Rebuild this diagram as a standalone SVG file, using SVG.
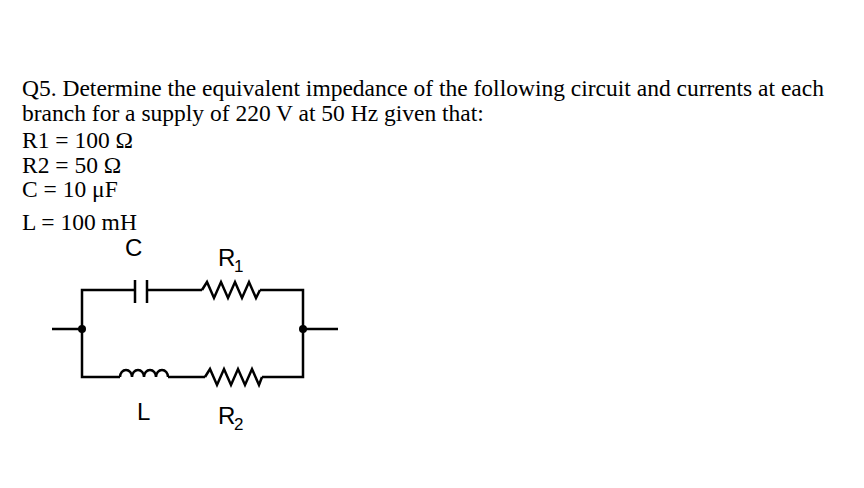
<svg xmlns="http://www.w3.org/2000/svg" width="864" height="488" viewBox="0 0 864 488">
<style>
.t{font-family:"Liberation Serif",serif;font-size:23.5px;fill:#000}
.l{font-family:"Liberation Sans",sans-serif;font-size:24px;fill:#000}
.s{font-family:"Liberation Sans",sans-serif;font-size:17px;fill:#000}
.w{fill:none;stroke:#000;stroke-width:2.5;stroke-linejoin:miter}
</style>
<rect width="864" height="488" fill="#fff"/>
<g id="question">
<text class="t" x="22" y="96">Q5. Determine the equivalent impedance of the following circuit and currents at each</text>
<text class="t" x="22" y="121">branch for a supply of 220 V at 50 Hz given that:</text>
<text class="t" x="22" y="148">R1 = 100 Ω</text>
<text class="t" x="22" y="173">R2 = 50 Ω</text>
<text class="t" x="22" y="197">C = 10 μF</text>
<text class="t" x="22" y="230">L = 100 mH</text>
</g>
<g id="connectors">
<path class="w" d="M52 329H82V290H135M147 290H202M260 290H303V377H262M205 377H168M120 377H82V329M303 329H338"/>
</g>
<g id="C"><path class="w" d="M135 280V303M147 280V303"/><text class="l" x="125" y="256">C</text></g>
<g id="R1"><path class="w" d="M202 290L207 282L214 298L221 282L228 298L235 282L242 298L249 282L256 298L260 290"/><text class="l" x="218" y="266">R</text><text class="s" x="234" y="272">1</text></g>
<g id="L"><path class="w" d="M120 377A6 7 0 0 1 132 377A6 7 0 0 1 144 377A6 7 0 0 1 156 377A6 7 0 0 1 168 377"/><text class="l" x="137" y="420">L</text></g>
<g id="R2"><path class="w" d="M205 377L210 369L217 385L224 369L231 385L238 369L245 385L252 369L259 385L262 377"/><text class="l" x="218" y="424">R</text><text class="s" x="234" y="430">2</text></g>
<g id="nodes"><circle cx="82" cy="329" r="4"/><circle cx="303" cy="329" r="4"/></g>
</svg>
